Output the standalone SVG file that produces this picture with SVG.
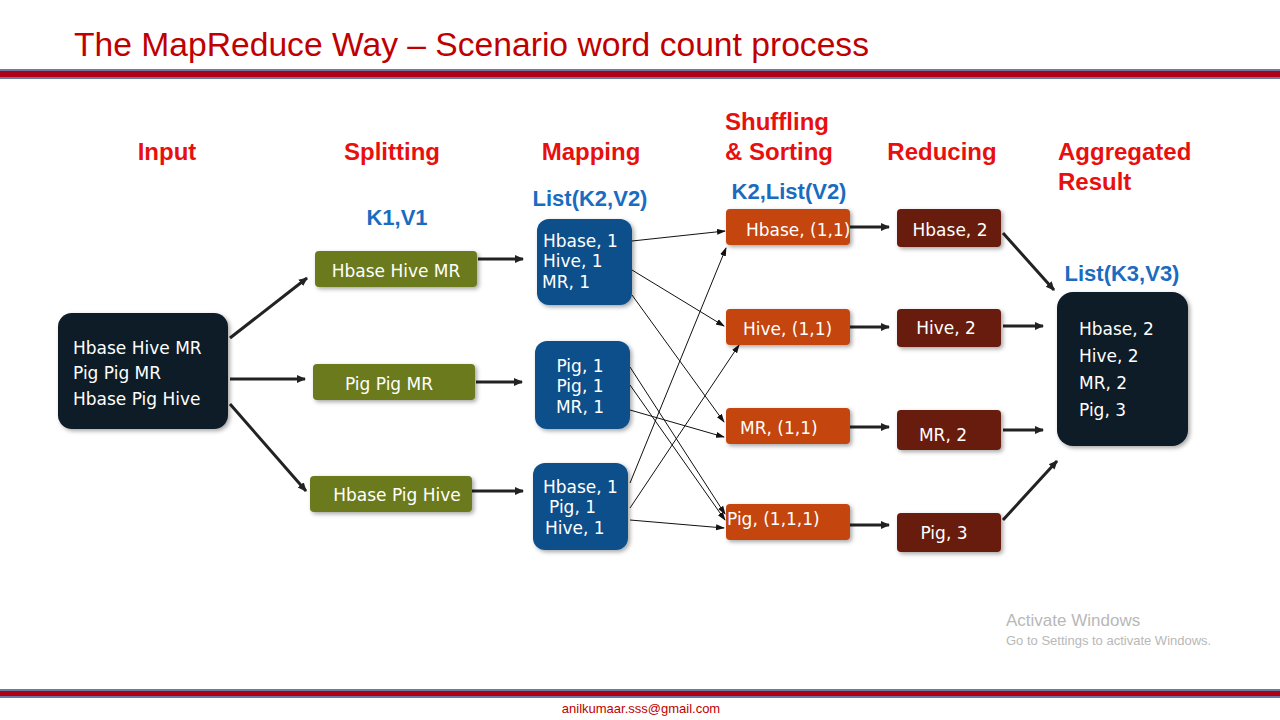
<svg xmlns="http://www.w3.org/2000/svg" width="1280" height="720" viewBox="0 0 1280 720">
<defs>
<marker id="ah" markerWidth="10" markerHeight="10" refX="8" refY="5" orient="auto" markerUnits="userSpaceOnUse"><path d="M0,1 L9,5 L0,9 z" fill="#222"/></marker>
<marker id="as" markerWidth="10" markerHeight="8" refX="8" refY="4" orient="auto" markerUnits="userSpaceOnUse"><path d="M0,1 L9,4 L0,7 z" fill="#111"/></marker>
<filter id="sh" x="-10%" y="-10%" width="130%" height="130%"><feDropShadow dx="2" dy="2" stdDeviation="2" flood-opacity="0.35"/></filter>
</defs>
<style>
text{font-family:"Liberation Sans",Arial,sans-serif}
.hd{fill:#e8100f;font-size:24px;font-weight:bold}
.bl{fill:#1a6cc0;font-size:22px;font-weight:bold}
.wt{fill:#fff;font-size:17px;font-family:"DejaVu Sans",Verdana,sans-serif}
.dk{fill:#0a1a26}.ol{fill:#6a7a1c}.bu{fill:#0d4f8b}.or{fill:#c4440c}.rd{fill:#681a0c}
.thk{stroke:#222;stroke-width:3;fill:none}
.thn{stroke:#111;stroke-width:1;fill:none}
</style>
<rect width="1280" height="720" fill="#fff"/>
<text x="74" y="56" font-family="'Liberation Sans Narrow','Liberation Sans',sans-serif" font-size="34" fill="#c00000" textLength="795" lengthAdjust="spacingAndGlyphs">The MapReduce Way – Scenario word count process</text>
<rect x="0" y="69" width="1280" height="10" fill="#6c7aa0"/><rect x="0" y="71" width="1280" height="6" fill="#b00018"/>
<rect x="0" y="689" width="1280" height="9" fill="#6c7aa0"/><rect x="0" y="691" width="1280" height="5" fill="#b00018"/>
<text x="641" y="713" text-anchor="middle" font-size="13" fill="#c00000">anilkumaar.sss@gmail.com</text>
<text x="1006" y="626" font-size="17" fill="#b8b8b8">Activate Windows</text>
<text x="1006" y="645" font-size="13" fill="#b8b8b8">Go to Settings to activate Windows.</text>

<text class="hd" x="167" y="160" text-anchor="middle">Input</text>
<text class="hd" x="392" y="160" text-anchor="middle">Splitting</text>
<text class="hd" x="591" y="160" text-anchor="middle">Mapping</text>
<text class="hd" x="725" y="130">Shuffling</text>
<text class="hd" x="725" y="160">&amp; Sorting</text>
<text class="hd" x="942" y="160" text-anchor="middle">Reducing</text>
<text class="hd" x="1058" y="160">Aggregated</text>
<text class="hd" x="1058" y="190">Result</text>
<text class="bl" x="397" y="225" text-anchor="middle">K1,V1</text>
<text class="bl" x="590" y="206" text-anchor="middle">List(K2,V2)</text>
<text class="bl" x="789" y="199" text-anchor="middle">K2,List(V2)</text>
<text class="bl" x="1122" y="281" text-anchor="middle">List(K3,V3)</text>

<g id="connectors">
<path class="thk" marker-end="url(#ah)" d="M230,338 L307,278"/>
<path class="thk" marker-end="url(#ah)" d="M230,379 L305,379"/>
<path class="thk" marker-end="url(#ah)" d="M230,404 L306,491"/>
<path class="thk" marker-end="url(#ah)" d="M478,259 L523,259"/>
<path class="thk" marker-end="url(#ah)" d="M476,382 L522,382"/>
<path class="thk" marker-end="url(#ah)" d="M472,491 L523,491"/>
<path class="thn" marker-end="url(#as)" d="M632,241 L725,231"/>
<path class="thn" marker-end="url(#as)" d="M632,270 L724,326"/>
<path class="thn" marker-end="url(#as)" d="M632,295 L724,422"/>
<path class="thn" marker-end="url(#as)" d="M630,367 L725,514"/>
<path class="thn" marker-end="url(#as)" d="M630,385 L725,520"/>
<path class="thn" marker-end="url(#as)" d="M630,410 L724,437"/>
<path class="thn" marker-end="url(#as)" d="M630,483 L726,248"/>
<path class="thn" marker-end="url(#as)" d="M630,508 L739,345"/>
<path class="thn" marker-end="url(#as)" d="M630,520 L724,528"/>
<path class="thk" marker-end="url(#ah)" d="M850,227 L889,227"/>
<path class="thk" marker-end="url(#ah)" d="M850,327 L889,327"/>
<path class="thk" marker-end="url(#ah)" d="M850,427 L889,427"/>
<path class="thk" marker-end="url(#ah)" d="M850,525 L889,525"/>
<path class="thk" marker-end="url(#ah)" d="M1003,233 L1054,290"/>
<path class="thk" marker-end="url(#ah)" d="M1003,326 L1043,326"/>
<path class="thk" marker-end="url(#ah)" d="M1003,430 L1043,430"/>
<path class="thk" marker-end="url(#ah)" d="M1003,520 L1057,461"/>
</g>

<g id="input"><rect class="dk" x="58" y="313" width="170" height="116" rx="14" filter="url(#sh)"/>
<text class="wt" x="73" y="354">Hbase Hive MR</text><text class="wt" x="73" y="379">Pig Pig MR</text><text class="wt" x="73" y="405">Hbase Pig Hive</text></g>

<g id="split1"><rect class="ol" x="315" y="251" width="162" height="36" rx="4" filter="url(#sh)"/><text class="wt" x="396" y="277" text-anchor="middle">Hbase Hive MR</text></g>
<g id="split2"><rect class="ol" x="313" y="364" width="162" height="36" rx="4" filter="url(#sh)"/><text class="wt" x="389" y="390" text-anchor="middle" font-size="18">Pig Pig MR</text></g>
<g id="split3"><rect class="ol" x="310" y="476" width="162" height="36" rx="4" filter="url(#sh)"/><text class="wt" x="397" y="501" text-anchor="middle" font-size="18">Hbase Pig Hive</text></g>

<g id="map1"><rect class="bu" x="537" y="219" width="95" height="86" rx="12" filter="url(#sh)"/>
<text class="wt" x="543" y="247" font-size="14">Hbase, 1</text><text class="wt" x="543" y="267" font-size="14">Hive, 1</text><text class="wt" x="542" y="288" font-size="14">MR, 1</text></g>
<g id="map2"><rect class="bu" x="535" y="341" width="95" height="88" rx="12" filter="url(#sh)"/>
<text class="wt" x="580" y="372" text-anchor="middle" font-size="14">Pig, 1</text><text class="wt" x="580" y="392" text-anchor="middle" font-size="14">Pig, 1</text><text class="wt" x="580" y="413" text-anchor="middle" font-size="14">MR, 1</text></g>
<g id="map3"><rect class="bu" x="533" y="463" width="95" height="87" rx="12" filter="url(#sh)"/>
<text class="wt" x="543" y="493" font-size="14">Hbase, 1</text><text class="wt" x="549" y="513" font-size="14">Pig, 1</text><text class="wt" x="545" y="534" font-size="14">Hive, 1</text></g>

<g id="shuf1"><rect class="or" x="726" y="209" width="124" height="36" rx="4" filter="url(#sh)"/><text class="wt" x="746" y="236" font-size="13">Hbase, (1,1)</text></g>
<g id="shuf2"><rect class="or" x="726" y="309" width="124" height="36" rx="4" filter="url(#sh)"/><text class="wt" x="743" y="335" font-size="14">Hive, (1,1)</text></g>
<g id="shuf3"><rect class="or" x="726" y="408" width="124" height="36" rx="4" filter="url(#sh)"/><text class="wt" x="740" y="434" font-size="16">MR, (1,1)</text></g>
<g id="shuf4"><rect class="or" x="726" y="504" width="124" height="36" rx="4" filter="url(#sh)"/><text class="wt" x="727" y="525" font-size="16">Pig, (1,1,1)</text></g>

<g id="red1"><rect class="rd" x="897" y="209" width="104" height="38" rx="4" filter="url(#sh)"/><text class="wt" x="950" y="236" text-anchor="middle" font-size="18">Hbase, 2</text></g>
<g id="red2"><rect class="rd" x="897" y="309" width="104" height="38" rx="4" filter="url(#sh)"/><text class="wt" x="946" y="334" text-anchor="middle" font-size="18">Hive, 2</text></g>
<g id="red3"><rect class="rd" x="897" y="410" width="104" height="40" rx="4" filter="url(#sh)"/><text class="wt" x="943" y="441" text-anchor="middle" font-size="18">MR, 2</text></g>
<g id="red4"><rect class="rd" x="897" y="513" width="104" height="39" rx="4" filter="url(#sh)"/><text class="wt" x="944" y="539" text-anchor="middle" font-size="18">Pig, 3</text></g>

<g id="result"><rect class="dk" x="1057" y="292" width="131" height="154" rx="16" filter="url(#sh)"/>
<text class="wt" x="1079" y="335" font-size="18">Hbase, 2</text><text class="wt" x="1079" y="362" font-size="18">Hive, 2</text><text class="wt" x="1079" y="389" font-size="18">MR, 2</text><text class="wt" x="1079" y="416" font-size="18">Pig, 3</text></g>
</svg>
